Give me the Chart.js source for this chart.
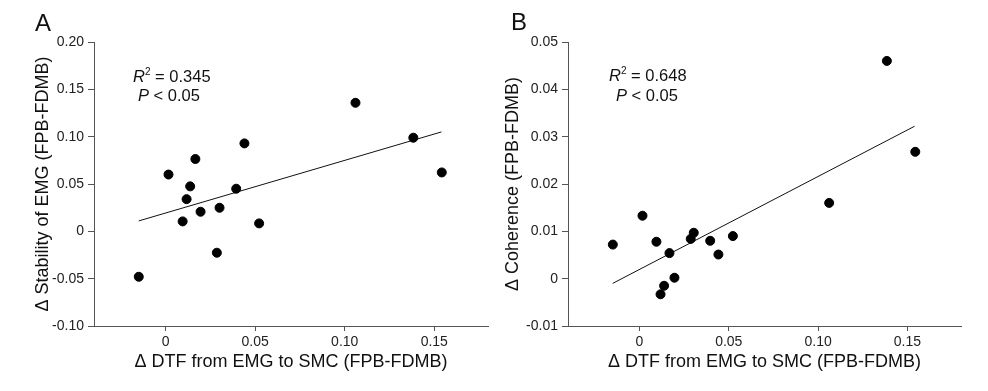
<!DOCTYPE html>
<html>
<head>
<meta charset="utf-8">
<script src="https://cdn.jsdelivr.net/npm/chart.js@4/dist/chart.umd.min.js"></script>
<style>
  body { margin: 0; background: #fff; font-family: "Liberation Sans", Arial, sans-serif; }
  #wrap { position: relative; width: 988px; height: 391px; }
  .panel { position: absolute; top: 0; width: 494px; height: 391px; }
  .lbl { position: absolute; color: #111; line-height: 1; white-space: nowrap; }
  .letter { font-size: 24px; }
  .stat { font-size: 16.5px; }
  .stat i { font-style: italic; }
  .stat sup { font-size: 10px; vertical-align: 7px; line-height: 0; }
</style>
</head>
<body>
<div id="wrap">
  <div class="panel" style="left:0"><canvas id="chartA"></canvas></div>
  <div class="panel" style="left:494px"><canvas id="chartB"></canvas></div>
  <div class="lbl letter" style="left:35px;top:11px">A</div>
  <div class="lbl letter" style="left:511px;top:10px">B</div>
  <div class="lbl stat" style="left:133px;top:68px"><i>R</i><sup>2</sup> = 0.345</div>
  <div class="lbl stat" style="left:138px;top:87px"><i>P</i> &lt; 0.05</div>
  <div class="lbl stat" style="left:609px;top:67px"><i>R</i><sup>2</sup> = 0.648</div>
  <div class="lbl stat" style="left:616px;top:87px"><i>P</i> &lt; 0.05</div>
</div>
<script>
// delta DTF from EMG to SMC (panel A x values)
const dtf = [-0.015, 0.0016, 0.0095, 0.0117, 0.0137, 0.0166, 0.0195, 0.0286, 0.0301, 0.0394, 0.0440, 0.0522, 0.106, 0.1383, 0.1542];
// panel A: delta stability of EMG
const stability = [-0.048, 0.060, 0.0105, 0.034, 0.0475, 0.0764, 0.0207, -0.0226, 0.0249, 0.045, 0.0929, 0.0084, 0.1358, 0.0989, 0.0622];
// panel B: delta coherence (same order as dtf)
const coherenceX = [-0.0149, 0.0017, 0.0095, 0.0118, 0.0138, 0.0168, 0.0196, 0.0287, 0.0304, 0.0396, 0.0442, 0.0523, 0.1062, 0.1385, 0.1544];
const coherence = [0.0072, 0.0133, 0.0078, -0.0033, -0.0015, 0.0054, 0.0002, 0.0084, 0.0097, 0.0080, 0.0051, 0.0090, 0.0160, 0.0460, 0.0268];

// fitted lines, endpoints
const fitAX = [-0.015, 0.154];
const fitAY = [0.011, 0.105];
const fitBX = [-0.015, 0.154];
const fitBY = [-0.001, 0.0322];

const xTicks = [0, 0.05, 0.10, 0.15];
const yTicksA = [-0.10, -0.05, 0, 0.05, 0.10, 0.15, 0.20];
const yTicksB = [-0.01, 0, 0.01, 0.02, 0.03, 0.04, 0.05];

const fontFam = '"Liberation Sans", Arial, sans-serif';
const axisColor = '#555';

function fmt(v, dec) {
  if (Math.abs(v) < 1e-9) return '0';
  return v.toFixed(dec);
}

function makeChart(id, xs, ys, fx, fy, yTicks, yMin, yMax, yDec, yTitle, yWidth, yTitlePad, padRight) {
  const ctx = document.getElementById(id).getContext('2d');
  return new Chart(ctx, {
    type: 'scatter',
    data: {
      datasets: [
        {
          data: xs.map((x, i) => ({ x, y: ys[i] })),
          backgroundColor: '#000',
          borderColor: '#000',
          pointRadius: 4.5,
          pointHoverRadius: 4.5
        },
        {
          data: fx.map((x, i) => ({ x, y: fy[i] })),
          showLine: true,
          borderColor: '#111',
          borderWidth: 1,
          pointRadius: 0,
          fill: false
        }
      ]
    },
    options: {
      responsive: true,
      maintainAspectRatio: false,
      animation: false,
      layout: { padding: { top: 42, right: padRight, left: 0, bottom: 0 } },
      plugins: { legend: { display: false }, tooltip: { enabled: false } },
      scales: {
        x: {
          type: 'linear',
          min: -0.04,
          max: 0.18,
          afterBuildTicks: s => { s.ticks = xTicks.map(v => ({ value: v })); },
          afterFit: s => { s.height = 65; },
          ticks: {
            color: '#222',
            font: { family: fontFam, size: 14 },
            padding: 3,
            maxRotation: 0,
            callback: v => fmt(v, 2)
          },
          grid: { drawOnChartArea: false, drawTicks: true, tickLength: 5, color: axisColor },
          border: { display: true, color: axisColor, width: 1 },
          title: {
            display: true,
            text: '\u0394 DTF from EMG to SMC (FPB-FDMB)',
            color: '#111',
            font: { family: fontFam, size: 18 },
            padding: { top: 0, bottom: 18 }
          }
        },
        y: {
          type: 'linear',
          min: yMin,
          max: yMax,
          afterBuildTicks: s => { s.ticks = yTicks.map(v => ({ value: v })); },
          afterFit: s => { s.width = yWidth; },
          ticks: {
            color: '#222',
            font: { family: fontFam, size: 14 },
            padding: 4,
            callback: v => fmt(v, yDec)
          },
          grid: { drawOnChartArea: false, drawTicks: true, tickLength: 6, color: axisColor },
          border: { display: true, color: axisColor, width: 1 },
          title: {
            display: true,
            text: yTitle,
            color: '#111',
            font: { family: fontFam, size: 18 },
            padding: { top: yTitlePad, bottom: 0 }
          }
        }
      }
    }
  });
}

makeChart('chartA', dtf, stability, fitAX, fitAY, yTicksA, -0.10, 0.20, 2,
  '\u0394 Stability of EMG (FPB-FDMB)', 94, 32, 6);
makeChart('chartB', coherenceX, coherence, fitBX, fitBY, yTicksB, -0.01, 0.05, 2,
  '\u0394 Coherence (FPB-FDMB)', 74, 8, 27);
</script>
</body>
</html>
